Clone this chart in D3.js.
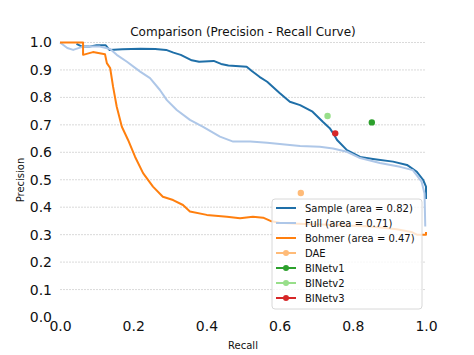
<!DOCTYPE html>
<html><head><meta charset="utf-8">
<script src="https://cdn.jsdelivr.net/npm/d3@7"></script>
<style>body{margin:0;background:#fff;} svg{display:block;font-family:"DejaVu Sans",sans-serif;}</style>
</head><body>
<svg id="c" width="474" height="355"></svg>
<script>
const title = "Comparison (Precision - Recall Curve)";
const yTicks = [0.0,0.1,0.2,0.3,0.4,0.5,0.6,0.7,0.8,0.9,1.0];
const xTicks = [0.0,0.2,0.4,0.6,0.8,1.0];

const sampleRecall = [0.045,0.06,0.08,0.10,0.125,0.135,0.17,0.22,0.26,0.29,0.31,0.33,0.36,0.38,0.42,0.44,0.46,0.51,0.525,0.545,0.566,0.60,0.628,0.656,0.69,0.718,0.737,0.746,0.757,0.784,0.82,0.855,0.91,0.948,0.975,0.992,1.0,1.0];
const samplePrecision = [0.995,0.985,0.985,0.99,0.99,0.973,0.975,0.977,0.976,0.973,0.963,0.955,0.935,0.93,0.933,0.922,0.916,0.912,0.895,0.875,0.857,0.816,0.784,0.772,0.748,0.711,0.688,0.67,0.645,0.608,0.583,0.576,0.566,0.554,0.529,0.5,0.475,0.43];

const fullRecall = [0.0,0.02,0.036,0.063,0.109,0.137,0.155,0.183,0.219,0.246,0.273,0.292,0.319,0.355,0.391,0.437,0.473,0.52,0.566,0.628,0.656,0.71,0.746,0.784,0.82,0.874,0.929,0.964,0.988,0.996,0.998];
const fullPrecision = [1.0,0.98,0.973,0.985,0.985,0.976,0.955,0.93,0.894,0.87,0.827,0.79,0.754,0.718,0.693,0.657,0.639,0.639,0.635,0.627,0.623,0.62,0.614,0.602,0.579,0.561,0.547,0.535,0.493,0.45,0.33];

const bohmerRecall = [0.0,0.063,0.063,0.09,0.123,0.128,0.137,0.145,0.155,0.169,0.186,0.205,0.227,0.254,0.281,0.309,0.336,0.355,0.401,0.456,0.492,0.527,0.555,0.575,0.60,0.65,0.75,0.85,0.92,0.96,0.975,1.0,1.0];
const bohmerPrecision = [1.0,1.0,0.955,0.965,0.957,0.925,0.907,0.839,0.766,0.693,0.645,0.584,0.524,0.475,0.438,0.426,0.408,0.384,0.372,0.365,0.36,0.365,0.362,0.35,0.343,0.34,0.335,0.33,0.32,0.31,0.30,0.30,0.31];

const pointNames = ["DAE","BINetv1","BINetv2","BINetv3"];
const pointRecall = [0.658,0.852,0.731,0.752];
const pointPrecision = [0.452,0.709,0.732,0.669];

const lineNames = ["Sample (area = 0.82)","Full (area = 0.71)","Bohmer (area = 0.47)"];
const lineColors = ["#1f6fa8","#aec7e8","#ff7f0e"];
const pointColors = ["#ffbb78","#2ca02c","#98df8a","#d62728"];

const svg = d3.select("#c");
const x = d3.scaleLinear().domain([0,1]).range([60,426]);
const y = d3.scaleLinear().domain([0,1]).range([317,42.5]);

// grid
svg.append("g").selectAll("line").data(yTicks.filter(d=>d>0)).join("line")
  .attr("x1",x(0)).attr("x2",x(1)).attr("y1",d=>y(d)).attr("y2",d=>y(d))
  .attr("stroke","#d0d0d0").attr("stroke-width",0.8).attr("stroke-dasharray","2,1");

// axes (no domain, no tick lines)
const ya = svg.append("g").attr("transform",`translate(${x(0)},0)`)
  .call(d3.axisLeft(y).tickValues(yTicks).tickFormat(d3.format(".1f")).tickSize(0).tickPadding(8));
ya.select(".domain").remove();
ya.selectAll("text").attr("font-size",14).attr("font-family","DejaVu Sans").attr("fill","#111");
const xa = svg.append("g").attr("transform",`translate(0,${y(0)})`)
  .call(d3.axisBottom(x).tickValues(xTicks).tickFormat(d3.format(".1f")).tickSize(0).tickPadding(4));
xa.select(".domain").remove();
xa.selectAll("text").attr("font-size",14).attr("font-family","DejaVu Sans").attr("fill","#111");

svg.append("text").attr("x",243).attr("y",36).attr("text-anchor","middle").attr("font-size",12).attr("fill","#111").text(title);
svg.append("text").attr("x",243).attr("y",349).attr("text-anchor","middle").attr("font-size",10).attr("fill","#111").text("Recall");
svg.append("text").attr("transform","translate(24,180) rotate(-90)").attr("text-anchor","middle").attr("font-size",10).attr("fill","#111").text("Precision");

const line = d3.line().x(d=>x(d[0])).y(d=>y(d[1]));
const series = [d3.zip(sampleRecall,samplePrecision), d3.zip(fullRecall,fullPrecision), d3.zip(bohmerRecall,bohmerPrecision)];
series.forEach((s,i)=>{
  svg.append("path").datum(s).attr("d",line).attr("fill","none")
    .attr("stroke",lineColors[i]).attr("stroke-width",2).attr("stroke-linejoin","round");
});

svg.append("g").selectAll("circle").data(pointNames).join("circle")
  .attr("cx",(d,i)=>x(pointRecall[i])).attr("cy",(d,i)=>y(pointPrecision[i]))
  .attr("r",3.2).attr("fill",(d,i)=>pointColors[i]);

// legend
const lg = svg.append("g");
lg.append("rect").attr("x",272).attr("y",199).attr("width",150).attr("height",110).attr("rx",3)
  .attr("fill","#fff").attr("fill-opacity",0.8).attr("stroke","#d8d8d8").attr("stroke-width",1);
const entries = lineNames.map((n,i)=>({n,c:lineColors[i],m:false})).concat(pointNames.map((n,i)=>({n,c:pointColors[i],m:true})));
entries.forEach((e,i)=>{
  const yy = 208 + i*15;
  lg.append("line").attr("x1",276).attr("x2",296).attr("y1",yy).attr("y2",yy).attr("stroke",e.c).attr("stroke-width",2);
  if(e.m) lg.append("circle").attr("cx",286).attr("cy",yy).attr("r",3).attr("fill",e.c);
  lg.append("text").attr("x",305).attr("y",yy+3.5).attr("font-size",10).attr("fill","#111").text(e.n);
});
</script>
</body></html>
